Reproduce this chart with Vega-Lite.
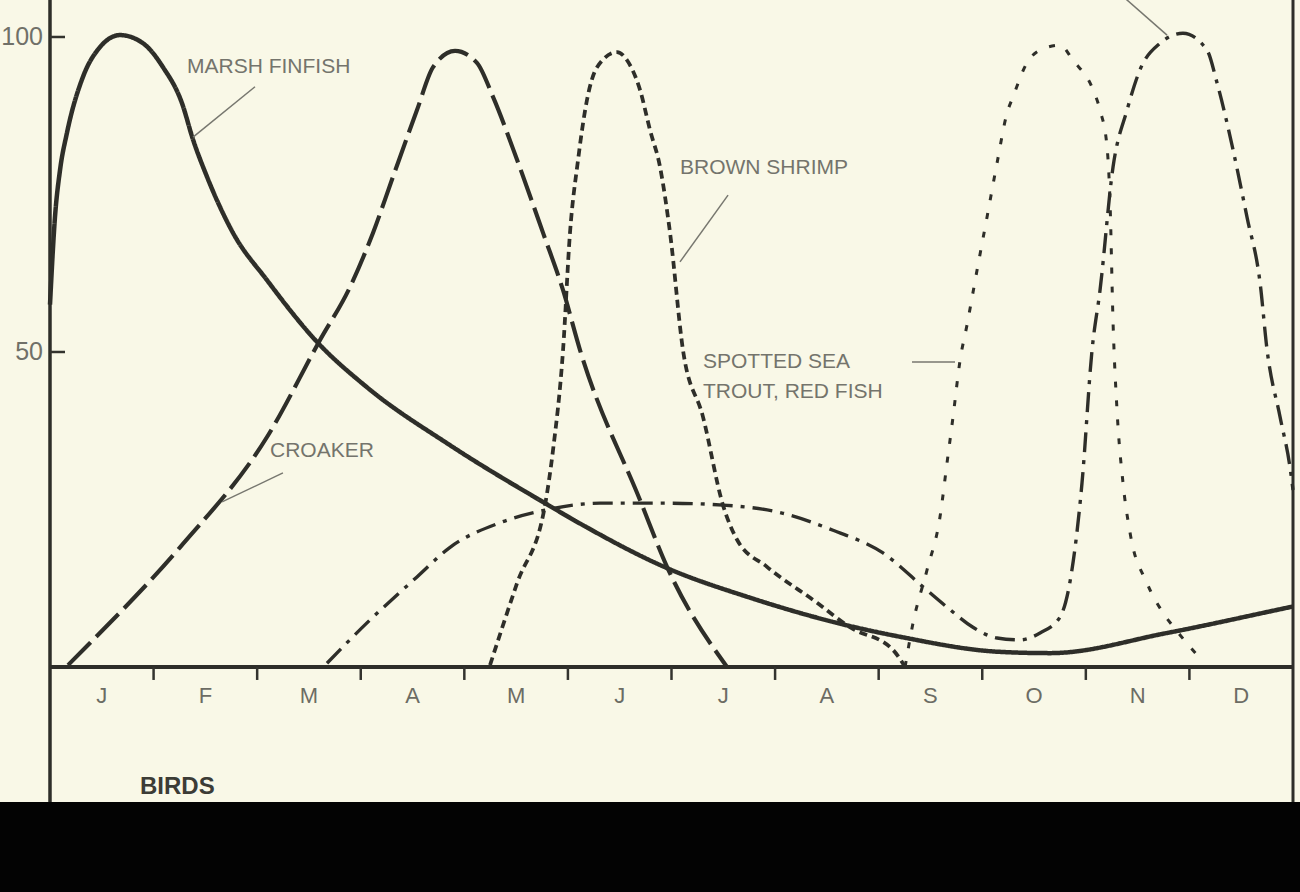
{
  "$schema": "https://vega.github.io/schema/vega-lite/v6.json",
  "width": 1300,
  "height": 802,
  "autosize": {"type": "none"},
  "padding": {"left": 0, "top": 0, "right": 0, "bottom": 90},
  "background": "#030303",
  "config": {"view": {"stroke": null, "fill": "#f9f8e7"}},
  "datasets": {
    "curves": [
      {"series": "Marsh finfish", "month": 0, "pct": 57.5},
      {"series": "Marsh finfish", "month": 0.048, "pct": 71.4},
      {"series": "Marsh finfish", "month": 0.097, "pct": 78.9},
      {"series": "Marsh finfish", "month": 0.164, "pct": 84.8},
      {"series": "Marsh finfish", "month": 0.319, "pct": 93.7},
      {"series": "Marsh finfish", "month": 0.483, "pct": 98.4},
      {"series": "Marsh finfish", "month": 0.676, "pct": 100.3},
      {"series": "Marsh finfish", "month": 0.898, "pct": 99.0},
      {"series": "Marsh finfish", "month": 1.091, "pct": 95.2},
      {"series": "Marsh finfish", "month": 1.274, "pct": 89.5},
      {"series": "Marsh finfish", "month": 1.381, "pct": 83.7},
      {"series": "Marsh finfish", "month": 1.516, "pct": 77.8},
      {"series": "Marsh finfish", "month": 1.767, "pct": 68.9},
      {"series": "Marsh finfish", "month": 2.095, "pct": 61.4},
      {"series": "Marsh finfish", "month": 2.578, "pct": 51.6},
      {"series": "Marsh finfish", "month": 3.06, "pct": 44.4},
      {"series": "Marsh finfish", "month": 3.862, "pct": 35.2},
      {"series": "Marsh finfish", "month": 4.779, "pct": 26.0},
      {"series": "Marsh finfish", "month": 5.146, "pct": 22.5},
      {"series": "Marsh finfish", "month": 5.957, "pct": 15.7},
      {"series": "Marsh finfish", "month": 6.758, "pct": 11.0},
      {"series": "Marsh finfish", "month": 7.598, "pct": 7.0},
      {"series": "Marsh finfish", "month": 8.206, "pct": 4.8},
      {"series": "Marsh finfish", "month": 9.172, "pct": 2.4},
      {"series": "Marsh finfish", "month": 9.654, "pct": 2.2},
      {"series": "Marsh finfish", "month": 10.784, "pct": 5.4},
      {"series": "Marsh finfish", "month": 11.971, "pct": 9.5},
      {"series": "Marsh finfish", "month": 12.0, "pct": 9.6},

      {"series": "Croaker", "month": 0.174, "pct": 0.3},
      {"series": "Croaker", "month": 0.386, "pct": 3.8},
      {"series": "Croaker", "month": 1.255, "pct": 19.0},
      {"series": "Croaker", "month": 2.095, "pct": 36.5},
      {"series": "Croaker", "month": 2.607, "pct": 51.9},
      {"series": "Croaker", "month": 2.896, "pct": 60.3},
      {"series": "Croaker", "month": 3.118, "pct": 68.9},
      {"series": "Croaker", "month": 3.311, "pct": 77.8},
      {"series": "Croaker", "month": 3.543, "pct": 88.4},
      {"series": "Croaker", "month": 3.698, "pct": 95.2},
      {"series": "Croaker", "month": 3.91, "pct": 97.8},
      {"series": "Croaker", "month": 4.122, "pct": 95.9},
      {"series": "Croaker", "month": 4.277, "pct": 90.5},
      {"series": "Croaker", "month": 4.509, "pct": 80.5},
      {"series": "Croaker", "month": 4.76, "pct": 68.9},
      {"series": "Croaker", "month": 4.953, "pct": 59.8},
      {"series": "Croaker", "month": 5.117, "pct": 50.3},
      {"series": "Croaker", "month": 5.696, "pct": 26.5},
      {"series": "Croaker", "month": 5.957, "pct": 15.9},
      {"series": "Croaker", "month": 6.536, "pct": 0},

      {"series": "Brown shrimp", "month": 4.248, "pct": 0.3},
      {"series": "Brown shrimp", "month": 4.509, "pct": 13.3},
      {"series": "Brown shrimp", "month": 4.779, "pct": 25.7},
      {"series": "Brown shrimp", "month": 4.856, "pct": 34.4},
      {"series": "Brown shrimp", "month": 4.953, "pct": 50.3},
      {"series": "Brown shrimp", "month": 5.02, "pct": 68.9},
      {"series": "Brown shrimp", "month": 5.098, "pct": 80.5},
      {"series": "Brown shrimp", "month": 5.184, "pct": 90.0},
      {"series": "Brown shrimp", "month": 5.281, "pct": 95.2},
      {"series": "Brown shrimp", "month": 5.474, "pct": 97.6},
      {"series": "Brown shrimp", "month": 5.571, "pct": 96.3},
      {"series": "Brown shrimp", "month": 5.696, "pct": 91.6},
      {"series": "Brown shrimp", "month": 5.793, "pct": 85.2},
      {"series": "Brown shrimp", "month": 5.889, "pct": 79.4},
      {"series": "Brown shrimp", "month": 5.986, "pct": 68.9},
      {"series": "Brown shrimp", "month": 6.111, "pct": 50.3},
      {"series": "Brown shrimp", "month": 6.304, "pct": 39.7},
      {"series": "Brown shrimp", "month": 6.497, "pct": 25.7},
      {"series": "Brown shrimp", "month": 6.633, "pct": 20.2},
      {"series": "Brown shrimp", "month": 6.922, "pct": 15.9},
      {"series": "Brown shrimp", "month": 7.405, "pct": 10.2},
      {"series": "Brown shrimp", "month": 7.723, "pct": 6.3},
      {"series": "Brown shrimp", "month": 8.139, "pct": 2.7},
      {"series": "Brown shrimp", "month": 8.255, "pct": 0},

      {"series": "Label cut off (dash-dot)", "month": 2.674, "pct": 0.6},
      {"series": "Label cut off (dash-dot)", "month": 3.06, "pct": 7.0},
      {"series": "Label cut off (dash-dot)", "month": 3.543, "pct": 14.3},
      {"series": "Label cut off (dash-dot)", "month": 3.862, "pct": 19.0},
      {"series": "Label cut off (dash-dot)", "month": 4.345, "pct": 22.9},
      {"series": "Label cut off (dash-dot)", "month": 4.779, "pct": 24.9},
      {"series": "Label cut off (dash-dot)", "month": 5.31, "pct": 26.0},
      {"series": "Label cut off (dash-dot)", "month": 5.957, "pct": 26.0},
      {"series": "Label cut off (dash-dot)", "month": 6.497, "pct": 25.7},
      {"series": "Label cut off (dash-dot)", "month": 7.077, "pct": 24.4},
      {"series": "Label cut off (dash-dot)", "month": 7.559, "pct": 21.7},
      {"series": "Label cut off (dash-dot)", "month": 8.042, "pct": 18.1},
      {"series": "Label cut off (dash-dot)", "month": 8.43, "pct": 12.7},
      {"series": "Label cut off (dash-dot)", "month": 8.66, "pct": 9.5},
      {"series": "Label cut off (dash-dot)", "month": 8.91, "pct": 6.3},
      {"series": "Label cut off (dash-dot)", "month": 9.143, "pct": 4.6},
      {"series": "Label cut off (dash-dot)", "month": 9.365, "pct": 4.3},
      {"series": "Label cut off (dash-dot)", "month": 9.558, "pct": 5.4},
      {"series": "Label cut off (dash-dot)", "month": 9.75, "pct": 7.9},
      {"series": "Label cut off (dash-dot)", "month": 9.85, "pct": 13.8},
      {"series": "Label cut off (dash-dot)", "month": 9.963, "pct": 29.2},
      {"series": "Label cut off (dash-dot)", "month": 10.06, "pct": 50.3},
      {"series": "Label cut off (dash-dot)", "month": 10.137, "pct": 59.8},
      {"series": "Label cut off (dash-dot)", "month": 10.263, "pct": 79.4},
      {"series": "Label cut off (dash-dot)", "month": 10.398, "pct": 88.4},
      {"series": "Label cut off (dash-dot)", "month": 10.523, "pct": 94.8},
      {"series": "Label cut off (dash-dot)", "month": 10.716, "pct": 99.0},
      {"series": "Label cut off (dash-dot)", "month": 10.938, "pct": 100.6},
      {"series": "Label cut off (dash-dot)", "month": 11.17, "pct": 97.9},
      {"series": "Label cut off (dash-dot)", "month": 11.267, "pct": 92.7},
      {"series": "Label cut off (dash-dot)", "month": 11.421, "pct": 82.1},
      {"series": "Label cut off (dash-dot)", "month": 11.556, "pct": 71.4},
      {"series": "Label cut off (dash-dot)", "month": 11.682, "pct": 61.0},
      {"series": "Label cut off (dash-dot)", "month": 11.75, "pct": 50.3},
      {"series": "Label cut off (dash-dot)", "month": 11.875, "pct": 39.7},
      {"series": "Label cut off (dash-dot)", "month": 11.971, "pct": 31.7},
      {"series": "Label cut off (dash-dot)", "month": 12.0, "pct": 28.1},

      {"series": "Spotted sea trout, red fish", "month": 8.255, "pct": 0},
      {"series": "Spotted sea trout, red fish", "month": 8.332, "pct": 7.0},
      {"series": "Spotted sea trout, red fish", "month": 8.467, "pct": 15.4},
      {"series": "Spotted sea trout, red fish", "month": 8.592, "pct": 23.8},
      {"series": "Spotted sea trout, red fish", "month": 8.66, "pct": 32.4},
      {"series": "Spotted sea trout, red fish", "month": 8.718, "pct": 39.7},
      {"series": "Spotted sea trout, red fish", "month": 8.786, "pct": 48.7},
      {"series": "Spotted sea trout, red fish", "month": 8.853, "pct": 54.3},
      {"series": "Spotted sea trout, red fish", "month": 8.95, "pct": 63.0},
      {"series": "Spotted sea trout, red fish", "month": 9.046, "pct": 71.4},
      {"series": "Spotted sea trout, red fish", "month": 9.143, "pct": 80.0},
      {"series": "Spotted sea trout, red fish", "month": 9.239, "pct": 87.9},
      {"series": "Spotted sea trout, red fish", "month": 9.297, "pct": 90.5},
      {"series": "Spotted sea trout, red fish", "month": 9.432, "pct": 95.9},
      {"series": "Spotted sea trout, red fish", "month": 9.558, "pct": 97.9},
      {"series": "Spotted sea trout, red fish", "month": 9.751, "pct": 98.7},
      {"series": "Spotted sea trout, red fish", "month": 9.876, "pct": 96.3},
      {"series": "Spotted sea trout, red fish", "month": 10.07, "pct": 91.6},
      {"series": "Spotted sea trout, red fish", "month": 10.137, "pct": 88.4},
      {"series": "Spotted sea trout, red fish", "month": 10.205, "pct": 82.5},
      {"series": "Spotted sea trout, red fish", "month": 10.233, "pct": 74.1},
      {"series": "Spotted sea trout, red fish", "month": 10.263, "pct": 54.6},
      {"series": "Spotted sea trout, red fish", "month": 10.301, "pct": 40.8},
      {"series": "Spotted sea trout, red fish", "month": 10.359, "pct": 29.2},
      {"series": "Spotted sea trout, red fish", "month": 10.427, "pct": 21.3},
      {"series": "Spotted sea trout, red fish", "month": 10.591, "pct": 13.3},
      {"series": "Spotted sea trout, red fish", "month": 10.754, "pct": 8.4},
      {"series": "Spotted sea trout, red fish", "month": 10.85, "pct": 6.3},
      {"series": "Spotted sea trout, red fish", "month": 11.102, "pct": 1.4}
    ],
    "labels": [
      {"text": "MARSH FINFISH", "month": 1.323, "pct": 95.2},
      {"text": "CROAKER", "month": 2.124, "pct": 34.3},
      {"text": "BROWN SHRIMP", "month": 6.082, "pct": 79.2},
      {"text": "SPOTTED SEA", "month": 6.304, "pct": 48.4},
      {"text": "TROUT, RED FISH", "month": 6.304, "pct": 43.7}
    ],
    "leaders": [
      {"month": 1.979, "pct": 92.1, "month2": 1.381, "pct2": 84.1},
      {"month": 2.249, "pct": 30.8, "month2": 1.661, "pct2": 26.2},
      {"month": 6.546, "pct": 74.9, "month2": 6.082, "pct2": 64.3},
      {"month": 8.322, "pct": 48.4, "month2": 8.737, "pct2": 48.4},
      {"month": 10.25, "pct": 108.0, "month2": 10.784, "pct2": 100.3}
    ],
    "panel": [
      {"text": "BIRDS", "month": 0.869, "pct": -19.0}
    ],
    "frame": [
      {"start": 0, "end": 12, "level": 0}
    ],
    "months": [
      {"m": "J", "start": 0, "mid": 0.5},
      {"m": "F", "start": 1, "mid": 1.5},
      {"m": "M", "start": 2, "mid": 2.5},
      {"m": "A", "start": 3, "mid": 3.5},
      {"m": "M", "start": 4, "mid": 4.5},
      {"m": "J", "start": 5, "mid": 5.5},
      {"m": "J", "start": 6, "mid": 6.5},
      {"m": "A", "start": 7, "mid": 7.5},
      {"m": "S", "start": 8, "mid": 8.5},
      {"m": "O", "start": 9, "mid": 9.5},
      {"m": "N", "start": 10, "mid": 10.5},
      {"m": "D", "start": 11, "mid": 11.5}
    ],
    "yticks": [
      {"value": 50, "label": "50"},
      {"value": 100, "label": "100"}
    ]
  },
  "layer": [
    {
      "data": {"name": "curves"},
      "mark": {"type": "line", "interpolate": "monotone", "stroke": "#2e2e29", "clip": true, "strokeCap": "butt"},
      "encoding": {
        "x": {
          "field": "month",
          "type": "quantitative",
          "scale": {"domain": [-0.4827, 12.0676], "nice": false, "zero": false},
          "axis": null
        },
        "y": {
          "field": "pct",
          "type": "quantitative",
          "scale": {"domain": [-21.43, 105.87], "nice": false, "zero": false},
          "axis": null
        },
        "strokeDash": {
          "field": "series",
          "type": "nominal",
          "scale": {
            "domain": ["Marsh finfish", "Croaker", "Brown shrimp", "Label cut off (dash-dot)", "Spotted sea trout, red fish"],
            "range": [[1, 0], [32, 8], [8, 5], [20, 8, 4, 8], [6, 13]]
          },
          "legend": null
        },
        "strokeWidth": {
          "field": "series",
          "type": "ordinal",
          "scale": {
            "domain": ["Marsh finfish", "Croaker", "Brown shrimp", "Label cut off (dash-dot)", "Spotted sea trout, red fish"],
            "range": [4.5, 3, 3, 3.5, 4]
          },
          "legend": null
        },
        "detail": {"field": "series", "type": "nominal"}
      }
    },
    {
      "data": {"name": "frame"},
      "mark": {"type": "rule", "stroke": "#2e2e29", "strokeWidth": 4},
      "encoding": {
        "x": {"field": "start", "type": "quantitative", "axis": null},
        "x2": {"field": "end"},
        "y": {"field": "level", "type": "quantitative", "axis": null}
      }
    },
    {
      "data": {"name": "frame"},
      "mark": {"type": "rule", "stroke": "#2e2e29", "strokeWidth": 3.5},
      "encoding": {
        "x": {"field": "start", "type": "quantitative", "axis": null}
      }
    },
    {
      "data": {"name": "frame"},
      "mark": {"type": "rule", "stroke": "#2e2e29", "strokeWidth": 3},
      "encoding": {
        "x": {"field": "end", "type": "quantitative", "axis": null}
      }
    },
    {
      "data": {"name": "months"},
      "transform": [{"filter": "datum.start > 0"}],
      "mark": {"type": "rule", "stroke": "#33332e", "strokeWidth": 2.5},
      "encoding": {
        "x": {"field": "start", "type": "quantitative", "axis": null},
        "y": {"datum": 0, "type": "quantitative", "axis": null},
        "y2": {"datum": -2.06}
      }
    },
    {
      "data": {"name": "months"},
      "mark": {"type": "text", "align": "center", "baseline": "alphabetic", "font": "Liberation Sans", "fontSize": 22, "fill": "#6c6c64"},
      "encoding": {
        "x": {"field": "mid", "type": "quantitative", "axis": null},
        "y": {"datum": -5.7, "type": "quantitative", "axis": null},
        "text": {"field": "m"}
      }
    },
    {
      "data": {"name": "yticks"},
      "mark": {"type": "rule", "stroke": "#33332e", "strokeWidth": 2.5},
      "encoding": {
        "x": {"datum": 0, "type": "quantitative", "axis": null},
        "x2": {"datum": 0.145},
        "y": {"field": "value", "type": "quantitative", "axis": null}
      }
    },
    {
      "data": {"name": "yticks"},
      "mark": {"type": "text", "align": "right", "baseline": "middle", "font": "Liberation Sans", "fontSize": 25, "fill": "#707068"},
      "encoding": {
        "x": {"datum": -0.068, "type": "quantitative", "axis": null},
        "y": {"field": "value", "type": "quantitative", "axis": null},
        "text": {"field": "label"}
      }
    },
    {
      "data": {"name": "leaders"},
      "mark": {"type": "rule", "stroke": "#77776f", "strokeWidth": 1.5, "clip": true},
      "encoding": {
        "x": {"field": "month", "type": "quantitative", "axis": null},
        "x2": {"field": "month2"},
        "y": {"field": "pct", "type": "quantitative", "axis": null},
        "y2": {"field": "pct2"}
      }
    },
    {
      "data": {"name": "labels"},
      "mark": {"type": "text", "align": "left", "baseline": "middle", "font": "Liberation Sans", "fontSize": 21, "fill": "#74746c"},
      "encoding": {
        "x": {"field": "month", "type": "quantitative", "axis": null},
        "y": {"field": "pct", "type": "quantitative", "axis": null},
        "text": {"field": "text"}
      }
    },
    {
      "data": {"name": "panel"},
      "mark": {"type": "text", "align": "left", "baseline": "middle", "font": "Liberation Sans", "fontSize": 24, "fontWeight": "bold", "fill": "#3c3c36"},
      "encoding": {
        "x": {"field": "month", "type": "quantitative", "axis": null},
        "y": {"field": "pct", "type": "quantitative", "axis": null},
        "text": {"field": "text"}
      }
    }
  ]
}
